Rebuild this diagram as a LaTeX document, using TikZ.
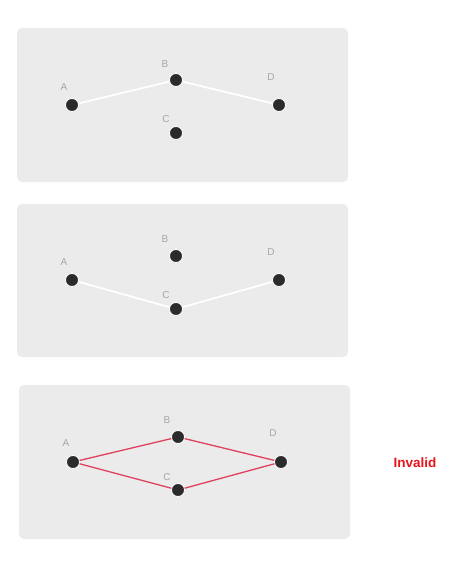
\documentclass[tikz,border=0pt]{standalone}
\usepackage{fontspec}
\setmainfont{Liberation Sans}
\definecolor{panelbg}{HTML}{EBEBEB}
\definecolor{dotc}{HTML}{2B2B2B}
\definecolor{lbl}{HTML}{A6A6A6}
\definecolor{badline}{HTML}{E0405E}
\definecolor{badtext}{HTML}{E8141C}
\begin{document}
\begin{tikzpicture}[x=1pt,y=-1pt,
  panel/.style={fill=panelbg,rounded corners=5pt},
  pt/.style={circle,fill=dotc,draw=white,line width=0.8pt,minimum size=13pt,inner sep=0pt},
  lab/.style={text=lbl,font=\fontsize{10}{11}\selectfont,inner sep=0pt},
  okedge/.style={draw=white,line width=1.8pt},
  badedge/.style={draw=badline,line width=1.3pt}]
\useasboundingbox (0,0) rectangle (474,568);
% panel 1
\fill[panel] (17,28) rectangle (348,182);
\node[pt] (a1) at (72,105) {};
\node[pt] (b1) at (176,80) {};
\node[pt] (c1) at (176,133) {};
\node[pt] (d1) at (279,105) {};
\node[lab] (la1) at (64,87) {A};
\node[lab] (lb1) at (165,64) {B};
\node[lab] (lc1) at (166,119) {C};
\node[lab] (ld1) at (271,77) {D};
% panel 2
\fill[panel] (17,204) rectangle (348,357);
\node[pt] (a2) at (72,280) {};
\node[pt] (b2) at (176,256) {};
\node[pt] (c2) at (176,309) {};
\node[pt] (d2) at (279,280) {};
\node[lab] (la2) at (64,262) {A};
\node[lab] (lb2) at (165,239) {B};
\node[lab] (lc2) at (166,295) {C};
\node[lab] (ld2) at (271,252) {D};
% panel 3
\fill[panel] (19,385) rectangle (350,539);
\node[pt] (a3) at (73,462) {};
\node[pt] (b3) at (178,437) {};
\node[pt] (c3) at (178,490) {};
\node[pt] (d3) at (281,462) {};
\node[lab] (la3) at (66,443) {A};
\node[lab] (lb3) at (167,420) {B};
\node[lab] (lc3) at (167,477) {C};
\node[lab] (ld3) at (273,433) {D};
\node[text=badtext,font=\bfseries\fontsize{13.5}{15}\selectfont,inner sep=0pt] (inv) at (415,463) {Invalid};
% edges
\draw[okedge] (a1) -- (b1);
\draw[okedge] (b1) -- (d1);
\draw[okedge] (a2) -- (c2);
\draw[okedge] (c2) -- (d2);
\draw[badedge] (a3) -- (b3);
\draw[badedge] (b3) -- (d3);
\draw[badedge] (a3) -- (c3);
\draw[badedge] (c3) -- (d3);
\end{tikzpicture}
\end{document}
